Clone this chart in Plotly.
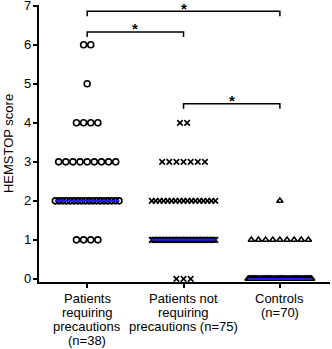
import numpy as np
import plotly.graph_objects as go

# ---- data ----
group_labels = [["Patients", "requiring", "precautions", "(n=38)"],
                ["Patients not", "requiring", "precautions (n=75)"],
                ["Controls", "(n=70)"]]
scores = [0, 1, 2, 3, 4, 5, 6]
# number of subjects at each score (0..6)
counts_g1 = [0, 4, 18, 9, 4, 1, 2]
counts_g2 = [3, 46, 17, 7, 2, 0, 0]
counts_g3 = [60, 9, 1, 0, 0, 0, 0]
symbols = ["circle-open", "x-thin-open", "triangle-up-open"]
# significance comparisons (group index a, group index b, bracket level)
comparisons = [(1, 3, 6.86), (1, 2, 6.33), (2, 3, 4.49)]
y_tick_values = [0, 1, 2, 3, 4, 5, 6, 7]

all_counts = [counts_g1, counts_g2, counts_g3]

fig = go.Figure()
base_sp = 0.074
max_w = 0.66
for gi, counts in enumerate(all_counts):
    xs, ys = [], []
    for s, n in zip(scores, counts):
        if n == 0:
            continue
        sp = base_sp if n == 1 else min(base_sp, max_w / (n - 1))
        for i in range(n):
            xs.append(gi + 1 + (i - (n - 1) / 2) * sp)
            ys.append(s)
    fig.add_trace(go.Scatter(
        x=xs, y=ys, mode="markers",
        marker=dict(symbol=symbols[gi], size=6 if gi == 0 else 5.5,
                    color="black", line=dict(color="black", width=1.6)),
        showlegend=False, hoverinfo="y"))
    vals = np.repeat(scores, counts)
    med = float(np.median(vals))
    fig.add_trace(go.Scatter(
        x=[gi + 1 - 0.335, gi + 1 + 0.335], y=[med, med], mode="lines",
        line=dict(color="#2020ee", width=2), showlegend=False, hoverinfo="skip"))

shapes = []
annotations = []
for a, b, h in comparisons:
    shapes.append(dict(type="path", xref="x", yref="y",
                       path=f"M {a} {h-0.13} L {a} {h} L {b} {h} L {b} {h-0.13}",
                       line=dict(color="black", width=1.5)))
    annotations.append(dict(x=(a + b) / 2, y=h - 0.19, xref="x", yref="y",
                            text="<b>*</b>", showarrow=False, yanchor="bottom",
                            font=dict(size=15, color="black", family="Liberation Sans")))

# category labels, one text line per annotation (tight line spacing)
for gi, lines in enumerate(group_labels):
    for k, line in enumerate(lines):
        annotations.append(dict(x=gi + 1, y=0, xref="x", yref="paper",
                                text=line, showarrow=False, yanchor="middle",
                                yshift=-(16 + 14 * k),
                                font=dict(size=13, color="black")))

# y tick labels as annotations (so the top "7" at the very edge is kept)
for v in y_tick_values:
    annotations.append(dict(x=0, y=v, xref="paper", yref="y", text=str(v),
                            showarrow=False, xanchor="right", yanchor="middle",
                            xshift=-6, font=dict(size=13, color="black")))

fig.update_layout(
    width=332, height=349,
    margin=dict(l=39, r=2, t=5, b=67),
    paper_bgcolor="white", plot_bgcolor="white",
    font=dict(family="Liberation Sans, Arial, sans-serif", color="black", size=13),
    shapes=shapes, annotations=annotations,
    xaxis=dict(range=[0.5, 3.52], tickvals=[1, 2, 3], showticklabels=False,
               showgrid=False, zeroline=False, showline=True, linecolor="black",
               linewidth=2, ticks="outside", ticklen=4, tickwidth=1.5,
               tickcolor="black", automargin=False),
    yaxis=dict(range=[-0.08, 7.02], tickvals=y_tick_values, showticklabels=False,
               showgrid=False, zeroline=False, showline=True, linecolor="black",
               linewidth=2, ticks="outside", ticklen=4, tickwidth=1.5,
               tickcolor="black", automargin=False,
               title=dict(text="HEMSTOP score", font=dict(size=13), standoff=16)),
)

fig.write_html("out.html", config={"displayModeBar": False},
               post_script="document.body.style.margin='0';document.body.style.padding='0';")
